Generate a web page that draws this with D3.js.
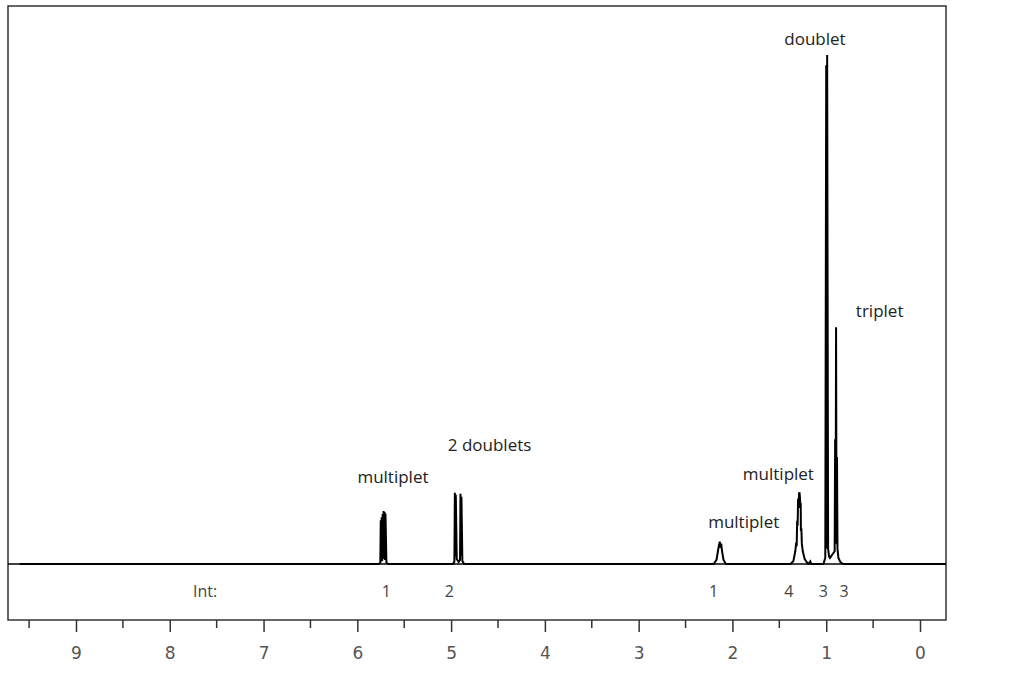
<!DOCTYPE html>
<html><head><meta charset="utf-8">
<script src="https://cdn.jsdelivr.net/npm/d3@7"></script>
<style>body{margin:0;background:#fff}</style></head>
<body><svg id="c" width="1024" height="678"></svg>
<script>
// spectrum points [ppm, relative intensity]
const spectrum = [
 [9.6,0],[5.77,0],[5.755,0.3],[5.75,8.6],[5.745,0.5],[5.74,9.2],[5.735,0.6],[5.73,9.8],[5.725,1],[5.72,10.4],[5.715,1],[5.71,10.2],[5.705,0.8],[5.70,9.9],[5.69,0.3],[5.67,0],
 [4.98,0],[4.965,0.5],[4.96,14.0],[4.955,1.5],[4.95,13.6],[4.94,1],[4.92,0.4],[4.905,0.8],[4.90,13.8],[4.895,1.5],[4.89,13.2],[4.88,0.6],[4.86,0],
 [2.20,0],[2.17,0.8],[2.155,2.5],[2.145,3.6],[2.135,4.4],[2.128,3.2],[2.12,4.0],[2.11,2.4],[2.095,0.8],[2.07,0],
 [1.38,0],[1.35,0.6],[1.33,2.5],[1.32,4.2],[1.315,3.5],[1.31,8.5],[1.305,7.5],[1.30,12.8],[1.295,11],[1.29,13.8],[1.285,14.1],[1.28,13.0],[1.275,11],[1.272,12],[1.27,6.5],[1.265,7],[1.26,4.0],[1.25,2.5],[1.23,1.0],[1.21,0.4],[1.19,0],[1.17,0.5],[1.16,0],
 [1.03,0],[1.01,1.2],[1.0,98],[0.995,3],[0.99,100],[0.98,3],[0.97,1.5],[0.96,1.2],
 [0.91,2.5],[0.905,24.5],[0.90,4],[0.895,46.5],[0.89,4],[0.885,21],[0.88,3],[0.87,1.2],[0.85,0.4],[0.82,0],[-0.3,0]
];
const intLabels = [["1",5.69],["2",5.02],["1",2.2],["4",1.40],["3",1.03],["3",0.81]];
// [text, ppm of centre, intensity level of text baseline]
const annotations = [
 ["doublet",1.12,102],["triplet",0.43,48.5],["multiplet",5.62,15.9],
 ["2 doublets",4.59,22.2],["multiplet",1.51,16.5],["multiplet",1.88,7.1]
];
const tickValues = d3.range(0,10,1);

const svg = d3.select("#c");
const x = d3.scaleLinear().domain([0,9]).range([920,76]);
const y = d3.scaleLinear().domain([0,100]).range([564,55]);
const L=8,R=946,T=6,B=620;

svg.append("rect").attr("x",L).attr("y",T).attr("width",R-L).attr("height",B-T)
  .attr("fill","none").attr("stroke","#333").attr("stroke-width",1.5);
svg.append("clipPath").attr("id","cl").append("rect").attr("x",L).attr("y",T).attr("width",R-L).attr("height",564-T+1);
svg.append("path").datum(spectrum).attr("clip-path","url(#cl)")
  .attr("d",d3.line().x(d=>x(d[0])).y(d=>y(d[1])))
  .attr("fill","none").attr("stroke","#000").attr("stroke-width",2);
svg.append("line").attr("x1",L).attr("x2",R).attr("y1",564).attr("y2",564).attr("stroke","#000").attr("stroke-width",1.5);

const font="'Open Sans', sans-serif";
svg.append("text").attr("x",205).attr("y",597).attr("text-anchor","middle")
  .attr("font-family",font).attr("font-size",16).attr("fill","#444").text("Int:");
svg.selectAll(".il").data(intLabels).join("text").attr("x",d=>x(d[1])).attr("y",597)
  .attr("text-anchor","middle").attr("font-family",font).attr("font-size",16).attr("fill","#444").text(d=>d[0]);
svg.selectAll(".an").data(annotations).join("text").attr("x",d=>x(d[1])).attr("y",d=>y(d[2]))
  .attr("text-anchor","middle").attr("font-family",font).attr("font-size",17).attr("fill","#222").text(d=>d[0]);

const ax = d3.axisBottom(x).tickValues(tickValues).tickSize(12).tickFormat(d3.format("d"));
const g = svg.append("g").attr("transform",`translate(0,${B})`).call(ax);
g.select(".domain").remove();
g.selectAll("line").attr("stroke","#333").attr("stroke-width",1.5);
g.selectAll("text").attr("font-family","'DejaVu Sans', sans-serif").attr("font-size",17).attr("fill","#555").attr("dy","1.4em");
svg.selectAll(".mt").data(d3.range(0.5,9.6,1)).join("line").attr("x1",d=>x(d)).attr("x2",d=>x(d))
  .attr("y1",B).attr("y2",B+8).attr("stroke","#333").attr("stroke-width",1.5);
</script></body></html>
